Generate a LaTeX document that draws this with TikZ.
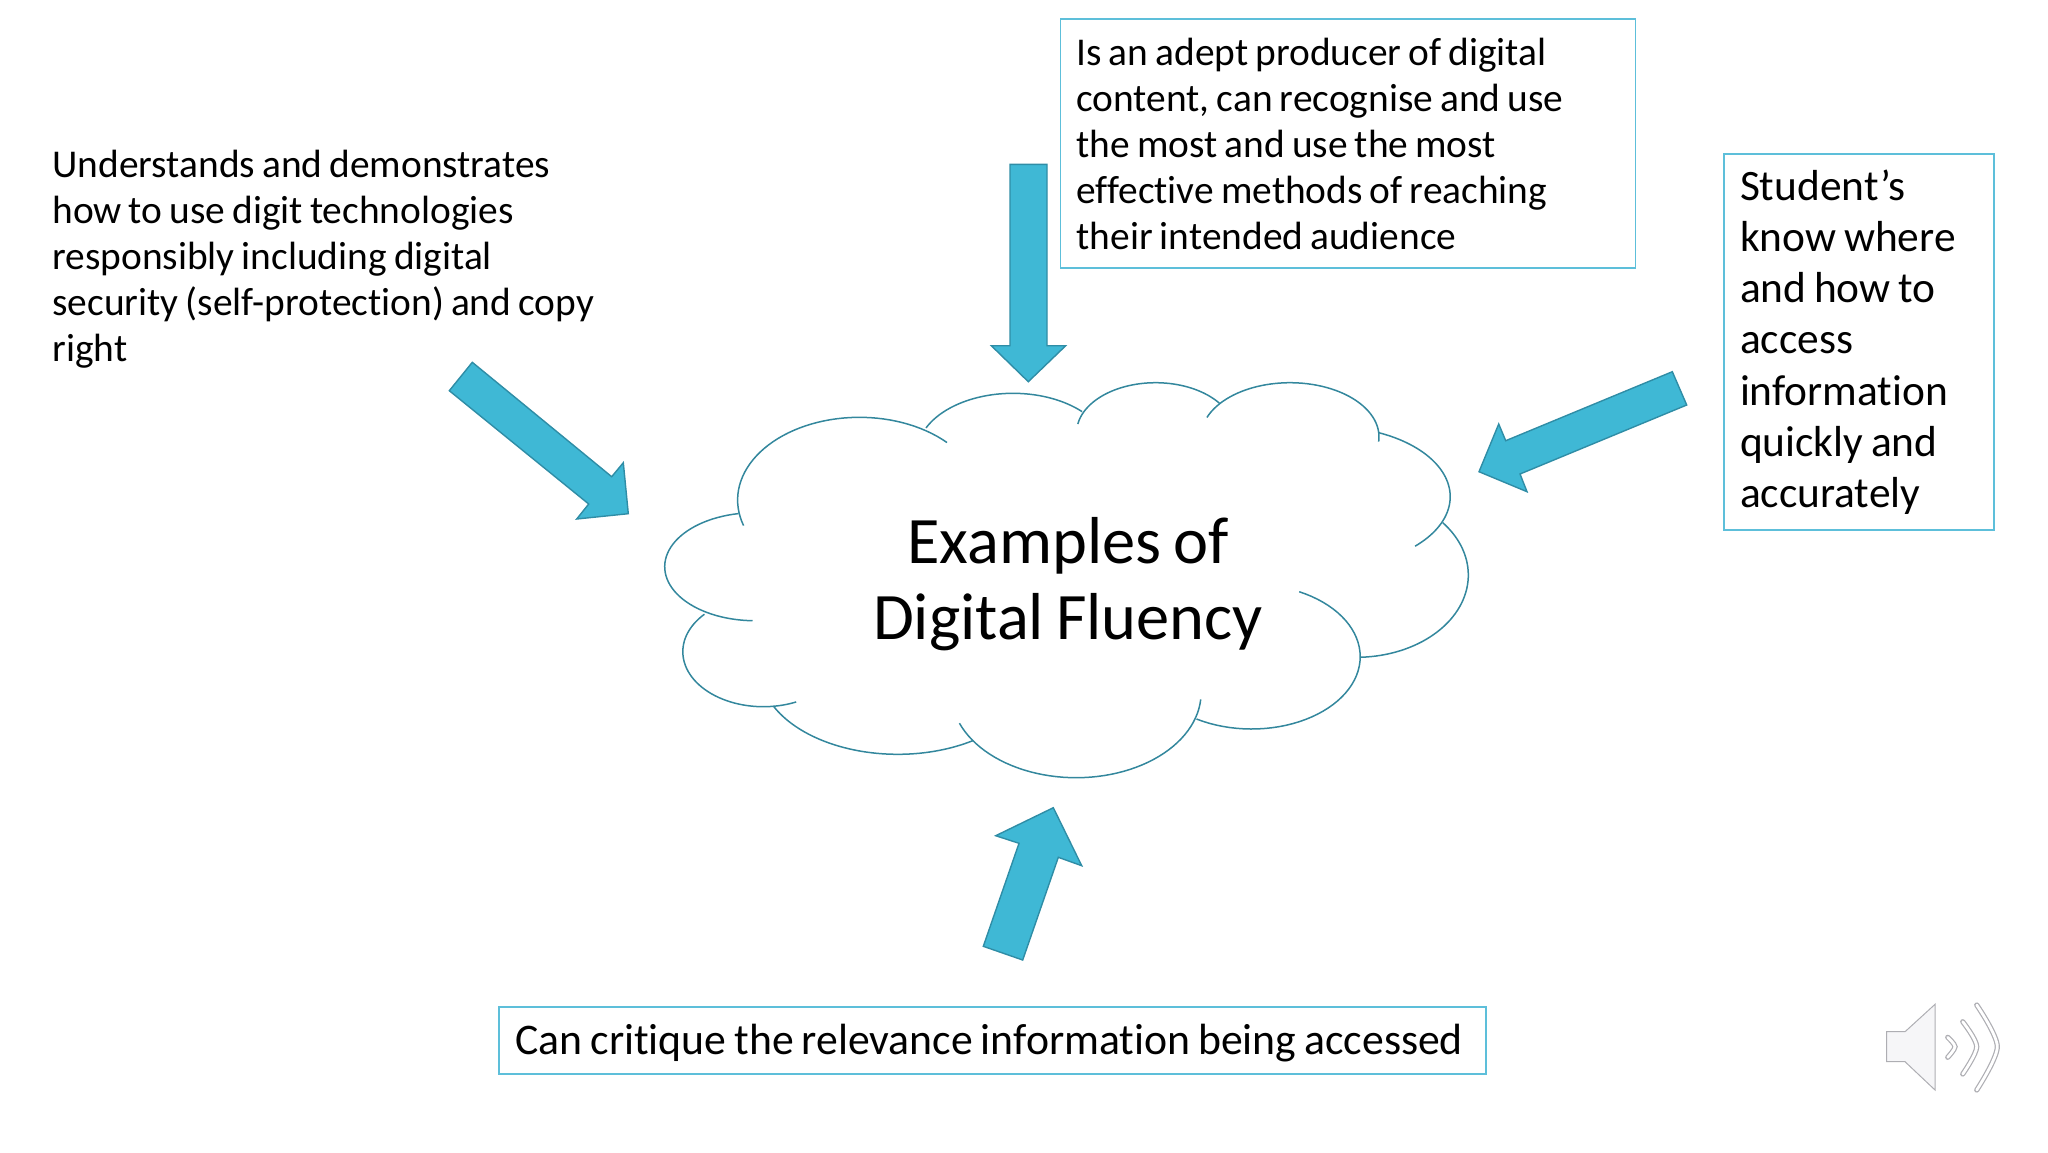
\documentclass[tikz,border=0pt]{standalone}
\usepackage{fontspec}
\setmainfont[WordSpace=0.8,Ligatures=NoCommon]{Carlito}
\usepackage{xcolor}
\usepackage{tikz}
\usetikzlibrary{positioning}
\definecolor{arrowfill}{HTML}{3FB8D5}
\definecolor{arrowline}{HTML}{2F8DA6}
\definecolor{boxline}{HTML}{5DBFDA}
\definecolor{cloudline}{HTML}{33879D}
\definecolor{speakerline}{HTML}{AEAEB3}
\definecolor{speakerfill}{HTML}{F6F6F8}

\begin{document}
\begin{tikzpicture}[
  x=0.5pt, y=-0.5pt,
  textbox/.style={
    rectangle, draw=boxline, line width=0.65pt,
    inner sep=0pt, align=flush left
  },
  plainbox/.style={
    rectangle, inner sep=0pt, align=flush left
  },
  blockarrow/.style={draw=arrowline, fill=arrowfill, line width=0.7pt, line join=miter},
  lobe/.style={draw=cloudline, line width=0.75pt},
  wave/.style={draw=speakerline, line width=0.6pt, double=white, double distance=1.4pt, line cap=round}
]
\useasboundingbox (0,0) rectangle (2048,1152);

\node[plainbox, anchor=west, text width=310pt, font=\fontsize{19.7pt}{23pt}\selectfont] (security) at (52,259) {%
  Understands and demonstrates\\
  how to use digit technologies\\
  responsibly including digital\\
  security (self-protection) and copy\\
  right};

\node[textbox, minimum width=287.5pt, minimum height=124.5pt, text width=271.5pt, font=\fontsize{19.7pt}{23pt}\selectfont] (producer) at (1348,143.5) {%
  Is an adept producer of digital\\
  content, can recognise and use\\
  the most and use the most\\
  effective methods of reaching\\
  their intended audience};

\node[textbox, minimum width=135pt, minimum height=188pt, text width=119pt, font=\fontsize{21.7pt}{25.6pt}\selectfont] (access) at (1859,342) {%
  Student’s\\
  know where\\
  and how to\\
  access\\
  information\\
  quickly and\\
  accurately};

\node[textbox, minimum width=493.5pt, minimum height=33.5pt, text width=477pt, text height=18.5pt, text depth=5pt, font=\fontsize{21.85pt}{24pt}\selectfont] (critique) at (992.5,1040.5) {%
  Can critique the relevance information being accessed};

\node[plainbox, align=center, font=\fontsize{33.2pt}{38.3pt}\selectfont] (title) at (1068,584) {%
  Examples of\\
  Digital Fluency};

% cloud, lobe by lobe
\foreach \cx/\cy/\rx/\ry/\sa/\ea in {
    859.4/500/121.8/82.7/162/316,
    1013/453.3/96/60/205/316,
    1155.6/432.7/79/50/190/324,
    1290/436.9/89/54.2/201/365,
    1330.2/496.7/120/70/-66.4/45,
    1356.3/575/112/82.3/-39.6/87.7,
    1251.6/656.7/108.6/72.3/-64/120.5,
    1076.1/692.7/125/85/4.5/159,
    897.8/669.3/138/85/57/154.4,
    763.4/651.7/80.6/55/66/223,
    754.7/566.7/90/54/91.4/259.7}
  \draw[lobe] plot[domain=\sa:\ea, samples=50] ({\cx+\rx*cos(\x)},{\cy+\ry*sin(\x)});

% block arrows
\draw[blockarrow] (472.3,362.3) -- (449.3,390.7) -- (588.7,504) -- (576.7,519) -- (628.3,513.7) -- (623.3,462.7) -- (611.7,476.7) -- cycle;
\draw[blockarrow] (1010,164.3) -- (1047,164.3) -- (1047,345.7) -- (1065.7,345.7) -- (1028.3,381.7) -- (991.3,345.7) -- (1010,345.7) -- cycle;
\draw[blockarrow] (1672.3,371.7) -- (1686.7,405) -- (1520,474) -- (1527,491.7) -- (1479,471.7) -- (1498.7,424) -- (1505.7,440.7) -- cycle;
\draw[blockarrow] (1022.7,960) -- (983.3,946.3) -- (1019,843.3) -- (995.7,835.7) -- (1053.3,807.7) -- (1081.7,865.7) -- (1058.3,857.3) -- cycle;

% speaker
\draw[draw=speakerline, fill=speakerfill, line width=0.5pt] (1886.7,1031.7) -- (1905,1031.7) -- (1935,1004.3) -- (1935,1090) -- (1905,1061.7) -- (1886.7,1061.7) -- cycle;
\draw[wave] plot[smooth] coordinates {(1947.7,1037.3) (1955,1046.7) (1947.7,1057.3)};
\draw[wave] plot[smooth] coordinates {(1962.7,1021.7) (1976.7,1046.7) (1962.7,1074)};
\draw[wave] plot[smooth] coordinates {(1976.7,1005) (1997.3,1046.7) (1976.7,1090)};
\end{tikzpicture}
\end{document}
